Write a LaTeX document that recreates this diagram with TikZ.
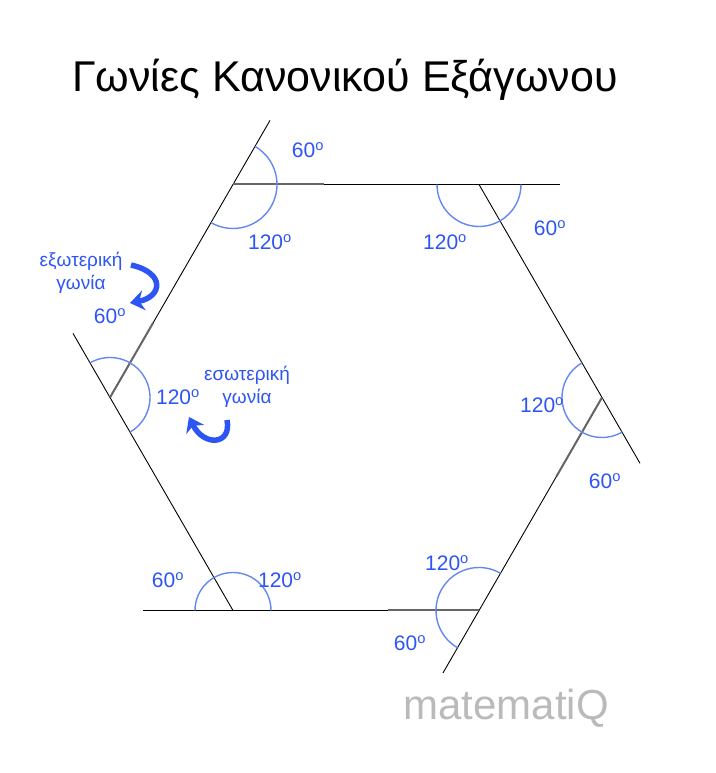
\documentclass[tikz,border=0pt]{standalone}
\usepackage{fontspec}
\setmainfont{Liberation Sans}
\usepackage{tikz}
\usepackage{xcolor}
\usetikzlibrary{calc,arrows.meta}

\definecolor{labelblue}{RGB}{45,85,245}
\definecolor{arcblue}{RGB}{100,135,240}

\tikzset{
	side/.style={black,line width=0.9pt},
	pencil/.style={black!60,line width=2pt},
	anglearc/.style={arcblue,line width=1.4pt},
	deg/.style={text=labelblue,font=\fontsize{21}{24}\selectfont,inner sep=0pt},
	note/.style={text=labelblue,font=\fontsize{19}{23}\selectfont,align=center,inner sep=0pt},
	hint/.style={labelblue,line width=5.5pt,-{Stealth[length=14pt,width=20pt]}}
}

\begin{document}
\begin{tikzpicture}[x=1pt,y=1pt]
				\useasboundingbox (0,0) rectangle (715,773);
				% vertices
				\coordinate []  (V1) at (233,588.5) ;
				\coordinate []  (V2) at (479,588.5) ;
				\coordinate []  (V3) at (602,375.5) ;
				\coordinate []  (V4) at (479,162.5) ;
				\coordinate []  (V5) at (233,162.5) ;
				\coordinate []  (V6) at (110,375.5) ;
				% ends of the extended sides
				\coordinate []  (E1) at (270,652.6) ;
				\coordinate []  (E2) at (560,588.5) ;
				\coordinate []  (E3) at (640,309.7) ;
				\coordinate []  (E4) at (443,100.1) ;
				\coordinate []  (E5) at (143,162.5) ;
				\coordinate []  (E6) at (73,439.6) ;
				% sides
				\draw[side] (V6) -- (E1);
				\draw[side] (V1) -- (E2);
				\draw[side] (V2) -- (E3);
				\draw[side] (V3) -- (E4);
				\draw[side] (V4) -- (E5);
				\draw[side] (V5) -- (E6);
				\draw[pencil] (V1) -- ($(V1)!0.37!(V2)$);
				\draw[pencil] (V6) -- ($(V6)!0.35!(V1)$);
				\draw[pencil] (V3) -- ($(V3)!0.37!(V4)$);
				\draw[pencil] (V4) -- ($(V4)!0.37!(V5)$);
				% angle arcs
				\draw[anglearc] (V1) ++(60:44pt) arc[start angle=60,end angle=-120,radius=44pt];
				\draw[anglearc] (V2) ++(180:42pt) arc[start angle=180,end angle=360,radius=42pt];
				\draw[anglearc] (V3) ++(120:40pt) arc[start angle=120,end angle=300,radius=40pt];
				\draw[anglearc] (V4) ++(60:43pt) arc[start angle=60,end angle=240,radius=43pt];
				\draw[anglearc] (V5) ++(0:38pt) arc[start angle=0,end angle=180,radius=38pt];
				\draw[anglearc] (V6) ++(120:40pt) arc[start angle=120,end angle=-60,radius=40pt];
				% angle labels
				\node[deg] (ext1) at (308,623) {60\textsuperscript{o}};
				\node[deg] (int1) at (270,531) {120\textsuperscript{o}};
				\node[deg] (int2) at (445,531) {120\textsuperscript{o}};
				\node[deg] (ext2) at (550,545) {60\textsuperscript{o}};
				\node[deg] (int3) at (542,368) {120\textsuperscript{o}};
				\node[deg] (ext3) at (605,292) {60\textsuperscript{o}};
				\node[deg] (int4) at (447,210) {120\textsuperscript{o}};
				\node[deg] (ext4) at (410,130) {60\textsuperscript{o}};
				\node[deg] (ext5) at (168,193) {60\textsuperscript{o}};
				\node[deg] (int5) at (280,193) {120\textsuperscript{o}};
				\node[deg] (ext6) at (110,457) {60\textsuperscript{o}};
				\node[deg] (int6) at (178,376) {120\textsuperscript{o}};
				% notes and their arrows
				\node[note] (exnote) at (81,500) {εξωτερική\\γωνία};
				\node[note] (innote) at (247,386) {εσωτερική\\γωνία};
				\coordinate []  (A1) at (131,508) ;
				\coordinate []  (B1) at (130,470) ;
				\coordinate []  (A2) at (227,353) ;
				\coordinate []  (B2) at (189,356) ;
				\draw[hint] (A1) .. controls (166,500) and (162,476) .. (B1);
				\draw[hint] (A2) .. controls (232,328) and (204,326) .. (B2);
				% title and mark
				\node[anchor=base,font=\fontsize{43}{48}\selectfont] (title) at (345,681) {Γωνίες Κανονικού Εξάγωνου};
				\node[text=black!27,font=\fontsize{42}{48}\selectfont] (mark) at (506,65) {matematiQ};
\end{tikzpicture}
\end{document}
